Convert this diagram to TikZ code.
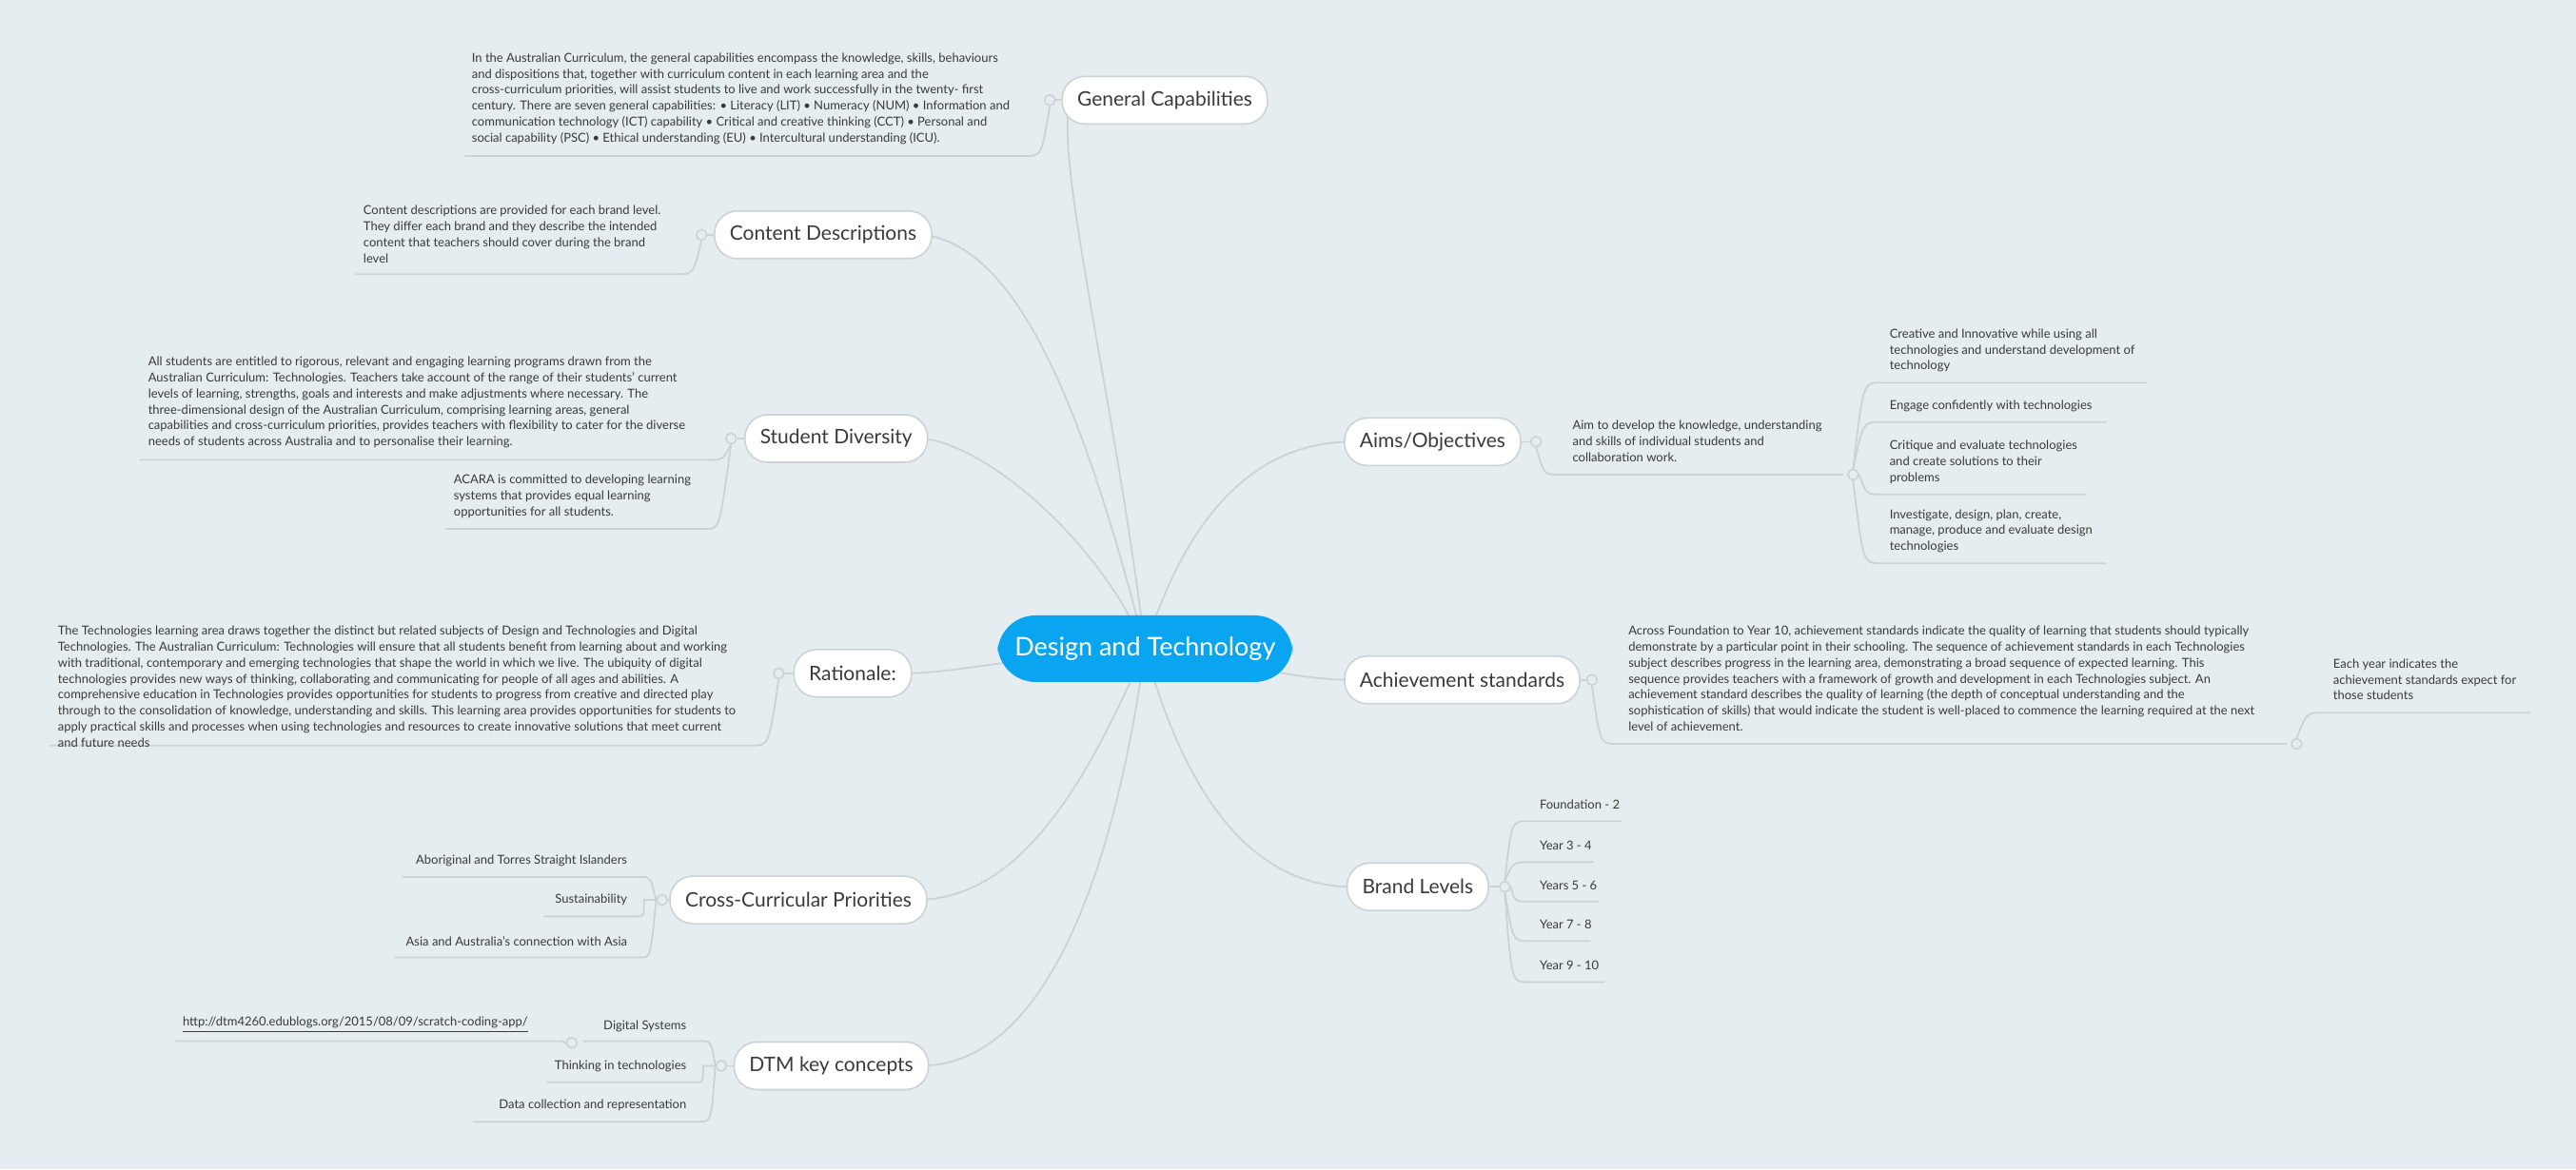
\documentclass[tikz,border=0pt]{standalone}
\usepackage{fontspec}
\setmainfont{Lato}
\begin{document}
\begin{tikzpicture}[x=0.8632pt,y=-0.8632pt,
  lk/.style={draw=lineC,line width=0.9pt},
  mainb/.style={draw=lineC,line width=0.8pt,fill=white,rounded corners=12pt,minimum height=25pt,inner xsep=8pt,font=\fontsize{10.5}{12}\selectfont,text=txtC},
  dotc/.style={circle,draw=lineC,line width=0.8pt,fill=bgC,inner sep=0pt,minimum size=5.5pt},
  leaf/.style={font=\fontsize{6.5}{8.4}\selectfont,text=txtC,inner sep=0pt,align=left},
  leafr/.style={font=\fontsize{6.5}{8.4}\selectfont,text=txtC,inner sep=0pt,align=right}]
\definecolor{bgC}{HTML}{E5EDF0}
\definecolor{lineC}{HTML}{CBD3D7}
\definecolor{txtC}{HTML}{3A3A3A}
\definecolor{cenC}{HTML}{0AA5F1}
\fill[bgC] (0,0) rectangle (1568,712);
\useasboundingbox (0,0) rectangle (1568,712);
\coordinate (c) at (697,395);
% main connectors
\draw[lk] (c) .. controls (680,250) and (640,90) .. (652,61);
\draw[lk] (c) .. controls (660,250) and (620,150) .. (562,143);
\draw[lk] (c) .. controls (670,330) and (600,270) .. (561,267);
\draw[lk] (c) .. controls (620,400) and (580,410) .. (552,410);
\draw[lk] (c) .. controls (660,480) and (620,548) .. (557,548);
\draw[lk] (c) .. controls (680,520) and (640,649) .. (560,649);
\draw[lk] (c) .. controls (720,320) and (760,269) .. (823,269);
\draw[lk] (c) .. controls (760,405) and (790,414) .. (823,414);
\draw[lk] (c) .. controls (720,480) and (760,540) .. (823,540);
% central node
\node[draw=none,fill=cenC,rounded corners=20pt,minimum width=155pt,minimum height=35pt,text=white,font=\fontsize{13.5}{15}\selectfont] (root) at (697,395) {Design and Technology};
% main nodes
\node[mainb] (gc) at (709,61) {General Capabilities};
\node[mainb] (cd) at (501,143) {Content Descriptions};
\node[mainb] (sd) at (509,267) {Student Diversity};
\node[mainb] (ra) at (519,410) {Rationale:};
\node[mainb] (cc) at (486,548) {Cross-Curricular Priorities};
\node[mainb] (dt) at (506,649) {DTM key concepts};
\node[mainb] (ai) at (872,269) {Aims/Objectives};
\node[mainb] (as) at (890,414) {Achievement standards};
\node[mainb] (bl) at (863,540) {Brand Levels};
% dots
\node[dotc] (gcd) at (639,61) {};
\node[dotc] (cdd) at (427,143) {};
\node[dotc] (sdd) at (445,267) {};
\node[dotc] (rad) at (474,410) {};
\node[dotc] (ccd) at (403,548) {};
\node[dotc] (dtd) at (439,649) {};
\node[dotc] (aid) at (935,269) {};
\node[dotc] (asd) at (969,414) {};
\node[dotc] (bld) at (916,540) {};
\draw[lk] (gc.west) -- (gcd.east); \draw[lk] (cd.west) -- (cdd.east);
\draw[lk] (sd.west) -- (sdd.east); \draw[lk] (ra.west) -- (rad.east);
\draw[lk] (cc.west) -- (ccd.east); \draw[lk] (dt.west) -- (dtd.east);
\draw[lk] (ai.east) -- (aid.west); \draw[lk] (as.east) -- (asd.west);
\draw[lk] (bl.east) -- (bld.west);
% left leaves
\draw[lk] (gcd.south) .. controls (634,95) .. (624,95) -- (283,95);
\node[leaf,anchor=north west] (gct) at (287,32) {In the Australian Curriculum, the general capabilities encompass the knowledge, skills, behaviours\\and dispositions that, together with curriculum content in each learning area and the\\cross-curriculum priorities, will assist students to live and work successfully in the twenty- first\\century. There are seven general capabilities:  • Literacy (LIT) • Numeracy (NUM) • Information and\\communication technology (ICT) capability • Critical and creative thinking (CCT) • Personal and\\social capability (PSC) • Ethical understanding (EU) • Intercultural understanding (ICU).};
\draw[lk] (cdd.south) .. controls (422,167) .. (412,167) -- (216,167);
\node[leaf,anchor=north west] (cdt) at (221,125) {Content descriptions are provided for each brand level.\\They differ each brand and they describe the intended\\content that teachers should cover during the brand\\level};
\draw[lk] (sdd.south) .. controls (440,280) .. (432,280) -- (85,280);
\draw[lk] (sdd.south) .. controls (438,322) .. (430,322) -- (271,322);
\node[leaf,anchor=north west] (sdt1) at (90,217) {All students are entitled to rigorous, relevant and engaging learning programs drawn from the\\Australian Curriculum: Technologies. Teachers take account of the range of their students’ current\\levels of learning, strengths, goals and interests and make adjustments where necessary. The\\three-dimensional design of the Australian Curriculum, comprising learning areas, general\\capabilities and cross-curriculum priorities, provides teachers with flexibility to cater for the diverse\\needs of students across Australia and to personalise their learning.};
\node[leaf,anchor=north west] (sdt2) at (276,289) {ACARA is committed to developing learning\\systems that provides equal learning\\opportunities for all students.};
\draw[lk] (rad.south) .. controls (468,454) .. (458,454) -- (30,454);
\node[leaf,anchor=north west] (rat) at (35,381) {The  Technologies learning area draws together the distinct but related subjects of Design and Technologies and Digital\\Technologies. The Australian Curriculum: Technologies will ensure that all students benefit from learning about and working\\with traditional, contemporary and emerging technologies that shape the world in which we live. The ubiquity of digital\\technologies provides new ways of thinking, collaborating and communicating for people of all ages and abilities. A\\comprehensive education in Technologies provides opportunities for students to progress from creative and directed play\\through to the consolidation of knowledge, understanding and skills. This learning area provides opportunities for students to\\apply practical skills and processes when using technologies and resources to create innovative solutions that meet current\\and future needs};
% cross-curricular
\draw[lk] (ccd.west) .. controls (396,534) .. (390,534) -- (245,534);
\draw[lk] (ccd.west) -- (392,548) .. controls (392,558) .. (388,558) -- (331,558);
\draw[lk] (ccd.west) .. controls (396,583) .. (390,583) -- (240,583);
\node[leafr,anchor=east] (cc1) at (382,524) {Aboriginal and Torres Straight Islanders};
\node[leafr,anchor=east] (cc2) at (382,548) {Sustainability};
\node[leafr,anchor=east] (cc3) at (382,573) {Asia and Australia's connection with Asia};
% DTM
\draw[lk] (dtd.west) .. controls (433,634) .. (426,634) -- (355,634);
\draw[lk] (dtd.west) -- (428,649) .. controls (428,659) .. (424,659) -- (333,659);
\draw[lk] (dtd.west) .. controls (433,683) .. (426,683) -- (288,683);
\node[dotc] (dsd) at (348,635) {};
\draw[lk] (dsd.west) .. controls (343,634) .. (338,634) -- (107,634);
\node[leafr,anchor=east] (ds) at (418,625) {Digital Systems};
\node[leafr,anchor=east] (th) at (418,649) {Thinking in technologies};
\node[leafr,anchor=east] (dc) at (418,673) {Data collection and representation};
\node[leaf,anchor=west] (url) at (111,624) {\underline{http://dtm4260.edublogs.org/2015/08/09/scratch-coding-app/}};
% Aims
\draw[lk] (aid.south) .. controls (940,289) .. (948,289) -- (1122,289);
\node[leaf,anchor=north west] (ait) at (957,256) {Aim to develop the knowledge, understanding\\and skills of individual students and\\collaboration work.};
\node[dotc] (ai2) at (1128,289) {};
\draw[lk] (ai2.north) .. controls (1134,233) .. (1145,233) -- (1307,233);
\draw[lk] (ai2.north) .. controls (1134,257) .. (1145,257) -- (1282,257);
\draw[lk] (ai2.east) .. controls (1136,301) .. (1145,301) -- (1270,301);
\draw[lk] (ai2.south) .. controls (1134,343) .. (1145,343) -- (1282,343);
\node[leaf,anchor=north west] (a1) at (1150,200) {Creative and Innovative while using all\\technologies and understand development of\\technology};
\node[leaf,anchor=west] (a2) at (1150,247) {Engage confidently with technologies};
\node[leaf,anchor=north west] (a3) at (1150,268) {Critique and evaluate technologies\\and create solutions to their\\problems};
\node[leaf,anchor=north west] (a4) at (1150,310) {Investigate, design, plan, create,\\manage, produce and evaluate design\\technologies};
% Achievement
\draw[lk] (asd.south) .. controls (974,453) .. (984,453) -- (1392,453);
\node[leaf,anchor=north west] (ast) at (991,381) {Across Foundation to Year 10, achievement standards indicate the quality of learning that students should typically\\demonstrate by a particular point in their schooling. The sequence of achievement standards in each Technologies\\subject describes progress in the learning area, demonstrating a broad sequence of expected learning. This\\sequence provides teachers with a framework of growth and development in each Technologies subject. An\\achievement standard describes the quality of learning (the depth of conceptual understanding and the\\sophistication of skills) that would indicate the student is well-placed to commence the learning required at the next\\level of achievement.};
\node[dotc] (as2) at (1398,453) {};
\draw[lk] (as2.north) .. controls (1404,434) .. (1414,434) -- (1540,434);
\node[leaf,anchor=north west] (ast2) at (1420,401) {Each year indicates the\\achievement standards expect for\\those students};
% Brand levels
\draw[lk] (bld.north) .. controls (920,500) .. (930,500) -- (987,500);
\draw[lk] (bld.north) .. controls (921,525) .. (930,525) -- (970,525);
\draw[lk] (bld.east) .. controls (922,549) .. (930,549) -- (973,549);
\draw[lk] (bld.south) .. controls (921,573) .. (930,573) -- (968,573);
\draw[lk] (bld.south) .. controls (920,598) .. (930,598) -- (977,598);
\node[leaf,anchor=west] (b1) at (937,490) {Foundation - 2};
\node[leaf,anchor=west] (b2) at (937,515) {Year 3 - 4};
\node[leaf,anchor=west] (b3) at (937,539) {Years 5 - 6};
\node[leaf,anchor=west] (b4) at (937,563) {Year 7 - 8};
\node[leaf,anchor=west] (b5) at (937,588) {Year 9 - 10};
\end{tikzpicture}
\end{document}
